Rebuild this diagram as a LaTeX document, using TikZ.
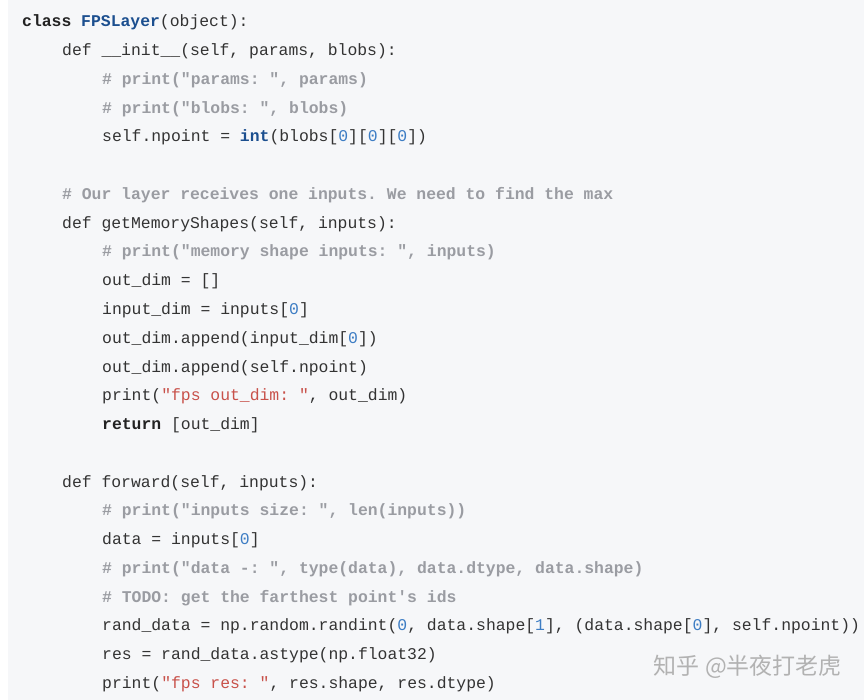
\documentclass[tikz,border=0pt]{standalone}
\usepackage{fontspec}
\setmonofont{Liberation Mono}
\newfontfamily\cjk{Noto Sans CJK SC}
\definecolor{bgc}{HTML}{F6F7F9}
\definecolor{txt}{HTML}{333333}
\definecolor{kwc}{HTML}{222222}
\definecolor{nmc}{HTML}{1C4F8F}
\definecolor{cmc}{HTML}{9A9CA2}
\definecolor{nbc}{HTML}{3D7DC4}
\definecolor{sqc}{HTML}{C8514A}
\newcommand{\kw}[1]{\textcolor{kwc}{\bfseries #1}}
\newcommand{\nm}[1]{\textcolor{nmc}{\bfseries #1}}
\newcommand{\cm}[1]{\textcolor{cmc}{\bfseries #1}}
\newcommand{\nb}[1]{\textcolor{nbc}{#1}}
\newcommand{\sq}[1]{\textcolor{sqc}{#1}}
\tikzset{code/.style={anchor=base west,inner sep=0pt,text=txt,font=\ttfamily\fontsize{16.4}{20}\selectfont}}
\newcommand{\cl}[3]{\node[code] (l#1) at (#2pt,{-27pt-28.75pt*#1}) {#3};}
\begin{document}
\begin{tikzpicture}
\useasboundingbox (0,0) rectangle (864pt,-700pt);
\fill[bgc] (8pt,0) rectangle (864pt,-700pt);
\cl{0}{22}{\kw{class} \nm{FPSLayer}(object):}
\cl{1}{62}{def \_\_init\_\_(self, params, blobs):}
\cl{2}{102}{\cm{\# print("params: ", params)}}
\cl{3}{102}{\cm{\# print("blobs: ", blobs)}}
\cl{4}{102}{self.npoint = \nm{int}(blobs[\nb{0}][\nb{0}][\nb{0}])}
\cl{6}{62}{\cm{\# Our layer receives one inputs. We need to find the max}}
\cl{7}{62}{def getMemoryShapes(self, inputs):}
\cl{8}{102}{\cm{\# print("memory shape inputs: ", inputs)}}
\cl{9}{102}{out\_dim = []}
\cl{10}{102}{input\_dim = inputs[\nb{0}]}
\cl{11}{102}{out\_dim.append(input\_dim[\nb{0}])}
\cl{12}{102}{out\_dim.append(self.npoint)}
\cl{13}{102}{print(\sq{"fps out\_dim: "}, out\_dim)}
\cl{14}{102}{\kw{return} [out\_dim]}
\cl{16}{62}{def forward(self, inputs):}
\cl{17}{102}{\cm{\# print("inputs size: ", len(inputs))}}
\cl{18}{102}{data = inputs[\nb{0}]}
\cl{19}{102}{\cm{\# print("data -: ", type(data), data.dtype, data.shape)}}
\cl{20}{102}{\cm{\# TODO: get the farthest point's ids}}
\cl{21}{102}{rand\_data = np.random.randint(\nb{0}, data.shape[\nb{1}], (data.shape[\nb{0}], self.npoint))}
\cl{22}{102}{res = rand\_data.astype(np.float32)}
\cl{23}{102}{print(\sq{"fps res: "}, res.shape, res.dtype)}
\node[anchor=base east,inner sep=0pt,text=black!30,font=\cjk\fontsize{23}{26}\selectfont] (wm) at (842pt,-674pt) {知乎 @半夜打老虎};
\end{tikzpicture}
\end{document}
